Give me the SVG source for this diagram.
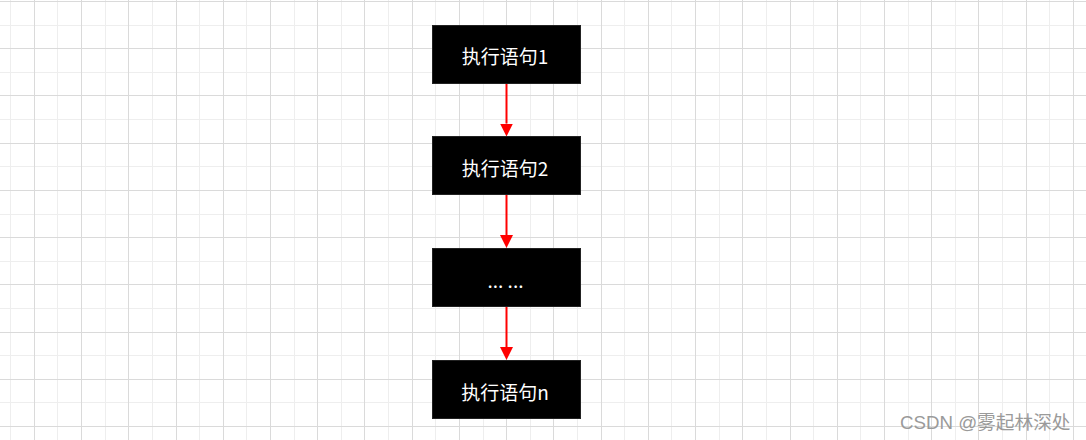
<svg xmlns="http://www.w3.org/2000/svg" width="1086" height="440" viewBox="0 0 1086 440">
<style>
.minor{stroke:#eeeeee;stroke-width:1;fill:none}
.major{stroke:#dadada;stroke-width:1;fill:none}
.box{fill:#000000;stroke:#222222;stroke-width:1}
.lbl{fill:#ffffff;font-family:"Microsoft YaHei","Noto Sans CJK SC","Noto Sans",sans-serif;font-size:19px;text-anchor:middle}
.edge{stroke:#ff0000;stroke-width:2;fill:none}
.wm{fill:#9a9a9a;font-family:"Liberation Sans","Noto Sans CJK SC",sans-serif;font-size:18.7px}
</style>
<defs>
<marker id="arr" markerUnits="userSpaceOnUse" markerWidth="14" markerHeight="14" refX="0" refY="6.5" orient="auto">
<path d="M0,0 L13,6.5 L0,13 Z" fill="#ff0000"/>
</marker>
</defs>
<rect width="1086" height="440" fill="#ffffff"/>
<g id="grid">
<path class="minor" d="M10.5,0V440M57.5,0V440M105.5,0V440M152.5,0V440M199.5,0V440M246.5,0V440M294.5,0V440M341.5,0V440M388.5,0V440M435.5,0V440M483.5,0V440M530.5,0V440M577.5,0V440M624.5,0V440M671.5,0V440M719.5,0V440M766.5,0V440M813.5,0V440M860.5,0V440M908.5,0V440M955.5,0V440M1002.5,0V440M1049.5,0V440M0,25.5H1086M0,72.5H1086M0,119.5H1086M0,166.5H1086M0,214.5H1086M0,261.5H1086M0,308.5H1086M0,355.5H1086M0,402.5H1086"/>
<path class="major" d="M34.5,0V440M81.5,0V440M128.5,0V440M176.5,0V440M223.5,0V440M270.5,0V440M317.5,0V440M364.5,0V440M412.5,0V440M459.5,0V440M506.5,0V440M553.5,0V440M601.5,0V440M648.5,0V440M695.5,0V440M742.5,0V440M790.5,0V440M837.5,0V440M884.5,0V440M931.5,0V440M978.5,0V440M1026.5,0V440M1073.5,0V440M0,1.5H1086M0,48.5H1086M0,95.5H1086M0,143.5H1086M0,190.5H1086M0,237.5H1086M0,284.5H1086M0,332.5H1086M0,379.5H1086M0,426.5H1086"/>
</g>
<g id="connectors">
<path class="edge" d="M506.5,83.5V123.5" marker-end="url(#arr)"/>
<path class="edge" d="M506.5,195V235" marker-end="url(#arr)"/>
<path class="edge" d="M506.5,307V347" marker-end="url(#arr)"/>
</g>
<g id="node1">
<rect class="box" x="432.5" y="25.5" width="148" height="58"/>
<text class="lbl" x="505" y="64">执行语句1</text>
</g>
<g id="node2">
<rect class="box" x="432.5" y="136.5" width="148" height="58"/>
<text class="lbl" x="505" y="175.5">执行语句2</text>
</g>
<g id="node3">
<rect class="box" x="432.5" y="248.5" width="148" height="58"/>
<text class="lbl" x="505.5" y="287.5">... ...</text>
</g>
<g id="node4">
<rect class="box" x="432.5" y="360.5" width="148" height="58"/>
<text class="lbl" x="505" y="399.5">执行语句n</text>
</g>
<text class="wm" x="900" y="429">CSDN @雾起林深处</text>
</svg>
